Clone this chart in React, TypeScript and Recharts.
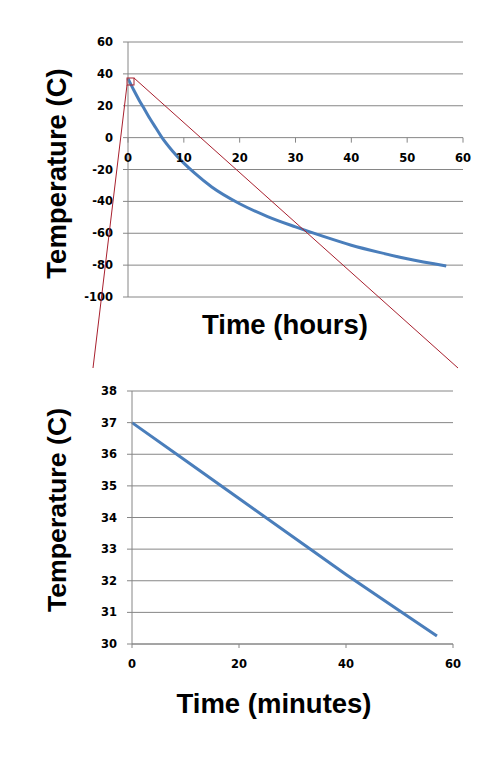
import React from 'react';
import { LineChart, Line, XAxis, YAxis, CartesianGrid } from 'recharts';

// cooling curve, hours
const hours = [0, 1, 2, 3, 4, 5, 6, 8, 10, 12, 15, 20, 25, 30, 35, 40, 45, 50, 57];
const tempHours = [37, 30, 23.5, 17.5, 11.5, 6, 0.5, -8.5, -16, -22.5, -31, -41.5, -49.5, -56, -62, -67.5, -72, -76, -80.5];
const hourTicks = [0, 10, 20, 30, 40, 50, 60];
const tempHourTicks = [60, 40, 20, 0, -20, -40, -60, -80, -100];

// first hour zoomed in, minutes
const minutes = [0, 10, 20, 30, 40, 50, 57];
const tempMinutes = [37, 35.8, 34.6, 33.4, 32.2, 31.05, 30.25];
const minuteTicks = [0, 20, 40, 60];
const tempMinuteTicks = [30, 31, 32, 33, 34, 35, 36, 37, 38];

const hourData = hours.map((h, i) => ({ t: h, temp: tempHours[i] }));
const minuteData = minutes.map((m, i) => ({ t: m, temp: tempMinutes[i] }));

const FONT = "'Liberation Sans', Arial, sans-serif";
const TICK_FONT = "'DejaVu Sans', Verdana, sans-serif";
const GRID = '#868686';
const BLUE = '#4a7ebb';
const ZOOM_RED = '#a8202e';

const tickStyle = { fontSize: 11.5, fontWeight: 'bold', fill: '#000', fontFamily: TICK_FONT };
const titleStyle: React.CSSProperties = { fontSize: 27.5, fontWeight: 'bold', fontFamily: FONT };

// top chart geometry
const TOP_MARGIN = 42;
const TOP_PLOT_H = 255;
const Y_MAX = 60;
const Y_MIN = -100;
const ZERO_Y = TOP_MARGIN + (TOP_PLOT_H * Y_MAX) / (Y_MAX - Y_MIN);

// Excel puts the horizontal axis where y = 0
const renderHoursTick = (props: any) => {
    const { x, payload } = props;
    return (
        <g key={`ht-${payload.value}`}>
            <line x1={x} x2={x} y1={ZERO_Y} y2={ZERO_Y + 5} stroke={GRID} />
            <text x={x} y={ZERO_Y + 24.5} textAnchor="middle" style={tickStyle} fill="#000">
                {payload.value}
            </text>
        </g>
    );
};

const App = () => {
    return (
        <div style={{ position: 'absolute', left: 0, top: 0, width: 503, height: 759, background: '#fff' }}>
            <div style={{ position: 'absolute', left: 0, top: 0 }}>
                <LineChart width={503} height={340} data={hourData} margin={{ top: TOP_MARGIN, right: 40, bottom: 340 - TOP_MARGIN - TOP_PLOT_H - 20, left: 0 }}>
                    <CartesianGrid vertical={false} stroke={GRID} />
                    <XAxis
                        dataKey="t"
                        type="number"
                        domain={[0, 60]}
                        ticks={hourTicks}
                        height={20}
                        axisLine={false}
                        tickLine={false}
                        tick={renderHoursTick}
                    />
                    <YAxis
                        type="number"
                        domain={[Y_MIN, Y_MAX]}
                        ticks={tempHourTicks}
                        width={128}
                        stroke={GRID}
                        tickSize={5}
                        tickMargin={10}
                        tick={tickStyle}
                    />
                    <Line type="monotone" dataKey="temp" stroke={BLUE} strokeWidth={3} dot={false} isAnimationActive={false} />
                </LineChart>
            </div>
            <div style={{ position: 'absolute', left: 0, top: 370 }}>
                <LineChart width={503} height={370} data={minuteData} margin={{ top: 21, right: 50, bottom: 66, left: 0 }}>
                    <CartesianGrid vertical={false} stroke={GRID} />
                    <XAxis
                        dataKey="t"
                        type="number"
                        domain={[0, 60]}
                        ticks={minuteTicks}
                        height={30}
                        stroke={GRID}
                        tickSize={4}
                        tickMargin={12}
                        tick={tickStyle}
                    />
                    <YAxis
                        type="number"
                        domain={[30, 38]}
                        ticks={tempMinuteTicks}
                        width={132}
                        stroke={GRID}
                        tickSize={5}
                        tickMargin={10}
                        tick={tickStyle}
                    />
                    <Line type="linear" dataKey="temp" stroke={BLUE} strokeWidth={3} dot={false} isAnimationActive={false} />
                </LineChart>
            </div>
            <svg width={503} height={759} style={{ position: 'absolute', left: 0, top: 0, pointerEvents: 'none' }}>
                {/* zoom callout */}
                <rect x={127} y={78} width={7} height={7} fill="none" stroke={ZOOM_RED} strokeWidth={1} />
                <line x1={127} y1={85} x2={93} y2={368} stroke={ZOOM_RED} strokeWidth={1} />
                <line x1={134} y1={78} x2={458} y2={368} stroke={ZOOM_RED} strokeWidth={1} />
                {/* axis titles */}
                <text x={285} y={334} textAnchor="middle" style={titleStyle}>Time (hours)</text>
                <text x={66} y={173.5} textAnchor="middle" transform="rotate(-90 66 173.5)" style={titleStyle}>Temperature (C)</text>
                <text x={274} y={713} textAnchor="middle" style={titleStyle}>Time (minutes)</text>
                <text x={66} y={510} textAnchor="middle" transform="rotate(-90 66 510)" style={{ ...titleStyle, fontSize: 26.7 }}>Temperature (C)</text>
            </svg>
        </div>
    );
};

export default App;
